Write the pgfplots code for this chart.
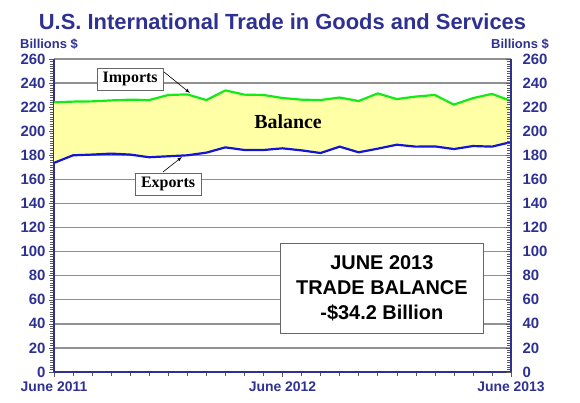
\documentclass[border=0pt]{standalone}
\usepackage{pgfplots}
\pgfplotsset{compat=1.18}
\usepackage{pgfplotstable}
\usepgfplotslibrary{fillbetween}
\usepackage{fontspec}
\setmainfont{Liberation Sans}
\newfontfamily\tnr{Liberation Serif}
\definecolor{navy}{RGB}{46,49,146}
\definecolor{impgreen}{RGB}{20,235,20}
\definecolor{expblue}{RGB}{20,20,215}
\definecolor{balfill}{RGB}{255,255,165}
\definecolor{gridgray}{RGB}{145,145,145}

\pgfplotstableread{
m imp exp
0 224.0 173.7
1 224.6 180.0
2 224.8 180.6
3 225.6 181.4
4 226.2 180.6
5 225.9 178.4
6 230.1 179.2
7 230.6 180.0
8 225.9 182.2
9 233.9 186.6
10 230.4 184.4
11 230.1 184.4
12 227.6 185.8
13 226.2 184.1
14 225.9 181.9
15 228.0 187.2
16 225.1 182.5
17 231.4 185.5
18 226.7 188.8
19 228.8 187.2
20 230.1 187.4
21 222.1 185.2
22 227.5 187.7
23 231.0 187.2
24 225.2 191.0
}\tradedata

\begin{document}
\begin{tikzpicture}
\pgfplotsset{
  common/.style={
    at={(0,0)}, anchor=south west, scale only axis,
    width=457bp, height=313bp,
    xmin=0, xmax=24, ymin=0, ymax=260,
    ytick={0,20,...,260}, minor y tick num=9,
    /pgf/number format/assume math mode=true,
    yticklabel style={font=\fontsize{15}{17}\selectfont\bfseries, text=navy},
    axis line style={navy, line width=1.6bp},
    major tick length=5bp, minor tick length=4bp,
    every tick/.style={gray!70!black, line width=0.5bp},
  }
}
\begin{axis}[common,
  axis x line*=bottom, axis y line*=left,
  tick align=outside,
  xtick={0,12,24}, xticklabels={June 2011,June 2012,June 2013},
  minor xtick={1,...,23},
  xticklabel style={font=\fontsize{14}{16}\selectfont\bfseries, text=navy, yshift=-1.5bp},
  ymajorgrids, major grid style={gridgray, line width=1.4bp},
]
\addplot[name path=imp, draw=none] table[x=m,y=imp]{\tradedata};
\addplot[name path=exp, draw=none] table[x=m,y=exp]{\tradedata};
\addplot[balfill] fill between[of=imp and exp];
\addplot[impgreen, line width=2.2bp] table[x=m,y=imp]{\tradedata};
\addplot[expblue, line width=2.2bp] table[x=m,y=exp]{\tradedata};

\node[draw=gray!80!black, fill=white, font=\tnr\bfseries\fontsize{16}{18}\selectfont, inner xsep=6bp, inner ysep=4bp] at (axis cs:4,243.4) {Imports};
\draw[line width=0.6bp, -latex] (axis cs:5.78,249.2) -- (axis cs:7.14,231.8);
\node[draw=gray!80!black, fill=white, font=\tnr\bfseries\fontsize{16}{18}\selectfont, inner xsep=6bp, inner ysep=4bp] at (axis cs:5.99,155.8) {Exports};
\draw[line width=0.6bp, -latex] (axis cs:5.72,166.1) -- (axis cs:6.72,178.6);
\node[font=\tnr\bfseries\fontsize{20}{22}\selectfont] at (axis cs:12.29,207.7) {Balance};

\node[draw=gray!80!black, line width=0.8bp, fill=white, minimum width=202bp, minimum height=90bp, align=center,
      font=\fontsize{20}{25}\selectfont\bfseries] at (axis cs:17.22,69.8)
      {JUNE 2013\\TRADE BALANCE\\-\$34.2 Billion};
\end{axis}

\begin{axis}[common,
  axis x line=none, axis y line*=right,
  tick align=inside,
  yticklabel style={xshift=8bp},
]
\end{axis}

\node[anchor=base, font=\fontsize{22}{24}\selectfont\bfseries, text=navy] at (228.5bp,342bp) {U.S. International Trade in Goods and Services};
\node[anchor=base, font=\fontsize{13}{15}\selectfont\bfseries, text=navy] at (-5bp,323bp) {Billions \$};
\node[anchor=base, font=\fontsize{13}{15}\selectfont\bfseries, text=navy] at (466bp,323bp) {Billions \$};
\path[use as bounding box] (-54bp,-31bp) rectangle (526bp,372bp);
\end{tikzpicture}
\end{document}
